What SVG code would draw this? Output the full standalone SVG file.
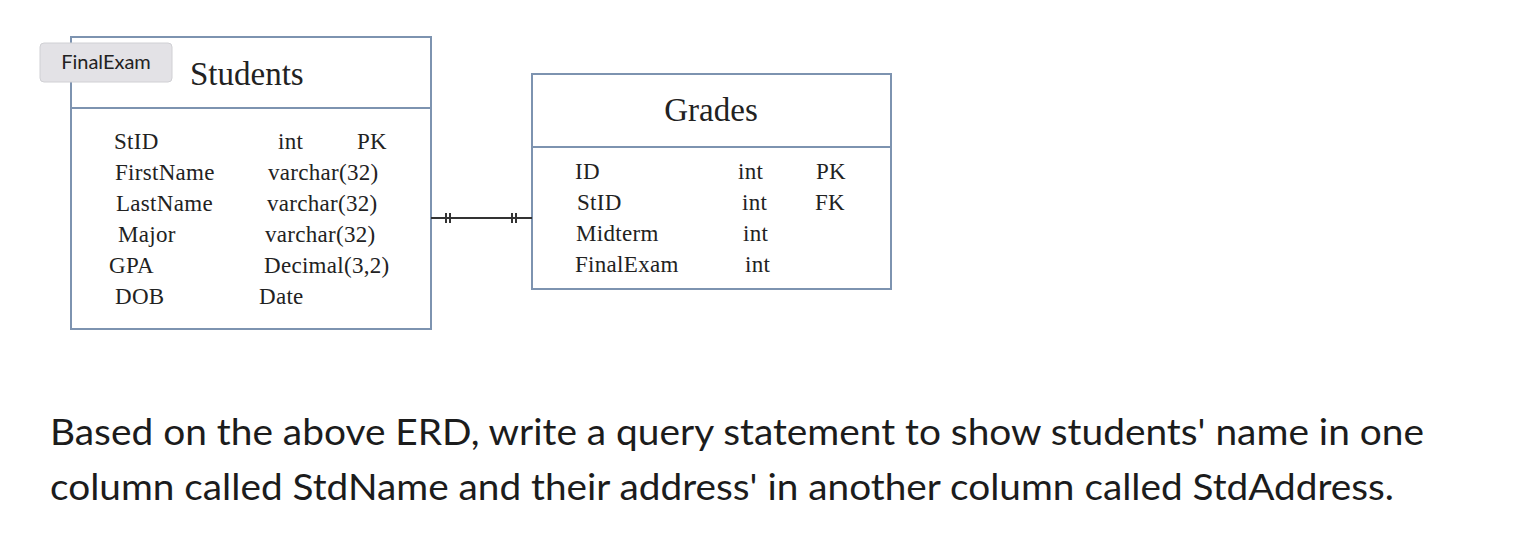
<svg xmlns="http://www.w3.org/2000/svg" width="1540" height="538" viewBox="0 0 1540 538">
<style>
.box{fill:#fff;stroke:#7d93b0;stroke-width:2}
.t{font-family:"Liberation Serif",serif;font-size:23px;letter-spacing:0.3px;fill:#222}
.h{font-family:"Liberation Serif",serif;font-size:33px;fill:#222}
.q{font-family:Lato,"Noto Sans",sans-serif;font-size:37px;fill:#1c1c1c}
</style>
<rect width="1540" height="538" fill="#fff"/>
<g id="students">
<rect class="box" x="71" y="37" width="360" height="292"/>
<line class="box" x1="71" y1="108" x2="431" y2="108"/>
<text class="h" x="190" y="85">Students</text>
<text class="t" x="114" y="149">StID</text><text class="t" x="278" y="149">int</text><text class="t" x="357" y="149">PK</text>
<text class="t" x="115" y="180">FirstName</text><text class="t" x="268" y="180">varchar(32)</text>
<text class="t" x="116" y="211">LastName</text><text class="t" x="267" y="211">varchar(32)</text>
<text class="t" x="118" y="242">Major</text><text class="t" x="265" y="242">varchar(32)</text>
<text class="t" x="109" y="273">GPA</text><text class="t" x="264" y="273">Decimal(3,2)</text>
<text class="t" x="115" y="304">DOB</text><text class="t" x="259" y="304">Date</text>
</g>
<g id="grades">
<rect class="box" x="532" y="74" width="359" height="215"/>
<line class="box" x1="532" y1="147" x2="891" y2="147"/>
<text class="h" x="711" y="121" text-anchor="middle">Grades</text>
<text class="t" x="575" y="179">ID</text><text class="t" x="738" y="179">int</text><text class="t" x="816" y="179">PK</text>
<text class="t" x="577" y="210">StID</text><text class="t" x="742" y="210">int</text><text class="t" x="815" y="210">FK</text>
<text class="t" x="576" y="241">Midterm</text><text class="t" x="743" y="241">int</text>
<text class="t" x="575" y="272">FinalExam</text><text class="t" x="745" y="272">int</text>
</g>
<g id="connectors" stroke="#333" stroke-width="2">
<line x1="431" y1="218" x2="532" y2="218"/>
<line x1="446" y1="213" x2="446" y2="223"/><line x1="450" y1="213" x2="450" y2="223"/>
<line x1="512" y1="213" x2="512" y2="223"/><line x1="516" y1="213" x2="516" y2="223"/>
</g>
<g id="tooltip">
<rect x="40" y="43" width="132" height="39" rx="4" fill="#e3e2e6" stroke="#d0d0d4"/>
<text x="106" y="69" text-anchor="middle" font-family="Lato,'Noto Sans',sans-serif" font-size="20" fill="#222">FinalExam</text>
</g>
<text class="q" x="50" y="445" textLength="1374" lengthAdjust="spacingAndGlyphs">Based on the above ERD, write a query statement to show students' name in one</text>
<text class="q" x="50" y="500" textLength="1344" lengthAdjust="spacingAndGlyphs">column called StdName and their address' in another column called StdAddress.</text>
</svg>
